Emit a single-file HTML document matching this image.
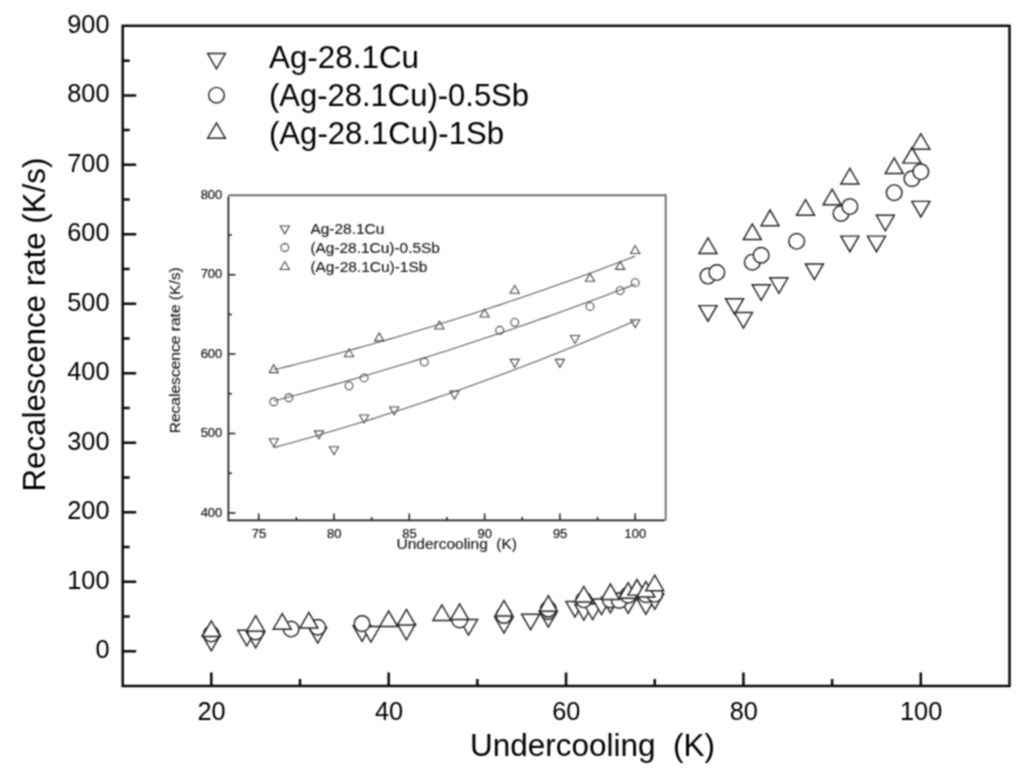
<!DOCTYPE html>
<html><head><meta charset="utf-8"><title>Recalescence rate vs undercooling</title>
<style>html,body{margin:0;padding:0;background:#fff;}svg{display:block;}</style></head>
<body><svg width="1024" height="782" viewBox="0 0 1024 782">
<defs><filter id="soft" filterUnits="userSpaceOnUse" x="0" y="0" width="1024" height="782" color-interpolation-filters="sRGB"><feConvolveMatrix order="3" kernelMatrix="1 2 1 2 4 2 1 2 1" divisor="16" edgeMode="duplicate"/></filter></defs>
<g filter="url(#soft)">
<rect width="1024" height="782" fill="#fff"/>
<rect x="122.7" y="25.8" width="886.8" height="660.2" fill="none" stroke="#0a0a0a" stroke-width="2.5"/>
<path d="M211.3 686V672.5M388.68 686V672.5M566.06 686V672.5M743.44 686V672.5M920.82 686V672.5M299.99 686V679M477.37 686V679M654.75 686V679M832.13 686V679M122.7 651.3H136.2M122.7 581.81H136.2M122.7 512.32H136.2M122.7 442.83H136.2M122.7 373.34H136.2M122.7 303.85H136.2M122.7 234.36H136.2M122.7 164.87H136.2M122.7 95.38H136.2M122.7 616.55H129.7M122.7 547.06H129.7M122.7 477.57H129.7M122.7 408.08H129.7M122.7 338.59H129.7M122.7 269.1H129.7M122.7 199.61H129.7M122.7 130.12H129.7M122.7 60.63H129.7" stroke="#0a0a0a" stroke-width="2.5" fill="none"/>
<g font-family="Liberation Sans, Arial, sans-serif" font-size="25.3" fill="#000"><text x="109.5" y="658.3" text-anchor="end">0</text><text x="109.5" y="588.81" text-anchor="end">100</text><text x="109.5" y="519.32" text-anchor="end">200</text><text x="109.5" y="449.83" text-anchor="end">300</text><text x="109.5" y="380.34" text-anchor="end">400</text><text x="109.5" y="310.85" text-anchor="end">500</text><text x="109.5" y="241.36" text-anchor="end">600</text><text x="109.5" y="171.87" text-anchor="end">700</text><text x="109.5" y="102.38" text-anchor="end">800</text><text x="109.5" y="32.89" text-anchor="end">900</text><text x="211.6" y="719.6" text-anchor="middle">20</text><text x="388.98" y="719.6" text-anchor="middle">40</text><text x="566.36" y="719.6" text-anchor="middle">60</text><text x="743.74" y="719.6" text-anchor="middle">80</text><text x="921.12" y="719.6" text-anchor="middle">100</text></g>
<text font-family="Liberation Sans, Arial, sans-serif" font-size="31" fill="#000" x="470" y="756.3" textLength="245" lengthAdjust="spacingAndGlyphs" style="white-space:pre">Undercooling  (K)</text>
<text font-family="Liberation Sans, Arial, sans-serif" font-size="31" fill="#000" transform="translate(44.6 491.6) rotate(-90)" x="0" y="0" textLength="334" lengthAdjust="spacingAndGlyphs">Recalescence rate (K/s)</text>
<path d="M207.67 53.5L225.33 53.5L216.5 68.8Z" stroke="#262626" stroke-width="1.45" fill="#fff"/>
<circle cx="216.5" cy="95.2" r="7.8" stroke="#262626" stroke-width="1.45" fill="#fff"/>
<path d="M207.67 138.2L225.33 138.2L216.5 122.9Z" stroke="#262626" stroke-width="1.45" fill="#fff"/>
<g font-family="Liberation Sans, Arial, sans-serif" font-size="31" fill="#000">
<text x="269" y="68.4" textLength="150" lengthAdjust="spacingAndGlyphs">Ag-28.1Cu</text>
<text x="269" y="106.1" textLength="260" lengthAdjust="spacingAndGlyphs">(Ag-28.1Cu)-0.5Sb</text>
<text x="269" y="144.2" textLength="235" lengthAdjust="spacingAndGlyphs">(Ag-28.1Cu)-1Sb</text>
</g>
<g stroke="#262626" stroke-width="1.45" fill="#fff">
<path d="M202.29 635.19L220.31 635.19L211.3 650.79Z"/>
<path d="M237.77 630.26L255.78 630.26L246.78 645.86Z"/>
<path d="M246.64 632.2L264.65 632.2L255.65 647.8Z"/>
<path d="M308.72 627.41L326.73 627.41L317.73 643.01Z"/>
<path d="M353.07 625.67L371.08 625.67L362.07 641.27Z"/>
<path d="M361.94 626.57L379.95 626.57L370.94 642.17Z"/>
<path d="M397.41 624.14L415.42 624.14L406.42 639.74Z"/>
<path d="M459.49 619.55L477.51 619.55L468.5 635.15Z"/>
<path d="M494.97 617.54L512.98 617.54L503.98 633.14Z"/>
<path d="M521.58 614.2L539.59 614.2L530.58 629.8Z"/>
<path d="M539.32 611.56L557.33 611.56L548.32 627.16Z"/>
<path d="M565.92 601.56L583.94 601.56L574.93 617.16Z"/>
<path d="M574.79 604.41L592.8 604.41L583.8 620.01Z"/>
<path d="M583.66 604.06L601.67 604.06L592.67 619.66Z"/>
<path d="M592.53 598.92L610.54 598.92L601.54 614.52Z"/>
<path d="M601.4 597.32L619.41 597.32L610.4 612.92Z"/>
<path d="M619.14 597.73L637.15 597.73L628.14 613.33Z"/>
<path d="M636.87 598.71L654.89 598.71L645.88 614.31Z"/>
<path d="M645.74 593.7L663.76 593.7L654.75 609.3Z"/>
<path d="M698.96 305.6L716.97 305.6L707.96 321.2Z"/>
<path d="M725.56 298.65L743.58 298.65L734.57 314.25Z"/>
<path d="M734.43 312.55L752.45 312.55L743.44 328.15Z"/>
<path d="M752.17 284.75L770.18 284.75L761.18 300.35Z"/>
<path d="M769.91 277.8L787.92 277.8L778.92 293.4Z"/>
<path d="M805.39 263.9L823.4 263.9L814.39 279.5Z"/>
<path d="M840.86 236.11L858.87 236.11L849.87 251.71Z"/>
<path d="M867.47 236.11L885.48 236.11L876.47 251.71Z"/>
<path d="M876.34 215.26L894.35 215.26L885.34 230.86Z"/>
<path d="M911.81 201.36L929.83 201.36L920.82 216.96Z"/>
<circle cx="211.3" cy="634" r="7.8"/>
<circle cx="255.65" cy="631.98" r="7.8"/>
<circle cx="291.12" cy="629.06" r="7.8"/>
<circle cx="317.73" cy="627.26" r="7.8"/>
<circle cx="362.07" cy="623.64" r="7.8"/>
<circle cx="459.63" cy="619.89" r="7.8"/>
<circle cx="503.98" cy="615.44" r="7.8"/>
<circle cx="548.32" cy="611.76" r="7.8"/>
<circle cx="548.32" cy="609.12" r="7.8"/>
<circle cx="583.8" cy="599.81" r="7.8"/>
<circle cx="610.4" cy="600.02" r="7.8"/>
<circle cx="619.27" cy="600.5" r="7.8"/>
<circle cx="628.14" cy="595.15" r="7.8"/>
<circle cx="645.88" cy="594.67" r="7.8"/>
<circle cx="654.75" cy="594.32" r="7.8"/>
<circle cx="707.96" cy="276.05" r="7.8"/>
<circle cx="716.83" cy="272.58" r="7.8"/>
<circle cx="752.31" cy="262.16" r="7.8"/>
<circle cx="761.18" cy="255.21" r="7.8"/>
<circle cx="796.65" cy="241.31" r="7.8"/>
<circle cx="841" cy="213.51" r="7.8"/>
<circle cx="849.87" cy="206.56" r="7.8"/>
<circle cx="894.21" cy="192.67" r="7.8"/>
<circle cx="911.95" cy="178.77" r="7.8"/>
<circle cx="920.82" cy="171.82" r="7.8"/>
<path d="M202.29 636.49L220.31 636.49L211.3 620.89Z"/>
<path d="M246.64 631.21L264.65 631.21L255.65 615.61Z"/>
<path d="M273.25 629.26L291.26 629.26L282.25 613.66Z"/>
<path d="M299.85 628.08L317.87 628.08L308.86 612.48Z"/>
<path d="M379.67 626.55L397.69 626.55L388.68 610.95Z"/>
<path d="M397.41 625.09L415.42 625.09L406.42 609.49Z"/>
<path d="M432.89 620.43L450.9 620.43L441.89 604.83Z"/>
<path d="M450.63 619.46L468.64 619.46L459.63 603.86Z"/>
<path d="M494.97 616.06L512.98 616.06L503.98 600.46Z"/>
<path d="M539.32 611.33L557.33 611.33L548.32 595.73Z"/>
<path d="M574.79 601.95L592.8 601.95L583.8 586.35Z"/>
<path d="M601.4 599.59L619.41 599.59L610.4 583.99Z"/>
<path d="M619.14 598.34L637.15 598.34L628.14 582.74Z"/>
<path d="M628.01 595.14L646.02 595.14L637.01 579.54Z"/>
<path d="M636.87 597.09L654.89 597.09L645.88 581.49Z"/>
<path d="M645.74 590.69L663.76 590.69L654.75 575.09Z"/>
<path d="M698.96 253.46L716.97 253.46L707.96 237.86Z"/>
<path d="M743.3 239.56L761.32 239.56L752.31 223.96Z"/>
<path d="M761.04 225.66L779.05 225.66L770.05 210.06Z"/>
<path d="M796.52 215.24L814.53 215.24L805.52 199.64Z"/>
<path d="M823.12 204.81L841.14 204.81L832.13 189.21Z"/>
<path d="M840.86 183.97L858.87 183.97L849.87 168.37Z"/>
<path d="M885.21 173.54L903.22 173.54L894.21 157.94Z"/>
<path d="M902.94 163.12L920.96 163.12L911.95 147.52Z"/>
<path d="M911.81 149.22L929.83 149.22L920.82 133.62Z"/>
</g>
<rect x="228.4" y="195.2" width="437.3" height="325.2" fill="#fff" stroke="none"/>
<path d="M228.4 196.2V520.4H664.7" stroke="#1e1e1e" stroke-width="1.7" fill="none"/>
<path d="M228.4 195.2H665.7V520.4" stroke="#6e6e6e" stroke-width="1.9" fill="none"/>
<path d="M258.7 520.4V513.4M334 520.4V513.4M409.3 520.4V513.4M484.6 520.4V513.4M559.9 520.4V513.4M635.2 520.4V513.4M296.35 520.4V516.9M371.65 520.4V516.9M446.95 520.4V516.9M522.25 520.4V516.9M597.55 520.4V516.9M228.4 512.9H235.4M228.4 433.5H235.4M228.4 354.1H235.4M228.4 274.7H235.4M228.4 473.2H231.9M228.4 393.8H231.9M228.4 314.4H231.9M228.4 235H231.9" stroke="#1e1e1e" stroke-width="1.5" fill="none"/>
<g font-family="Liberation Sans, Arial, sans-serif" font-size="12.6" fill="#151515" stroke="#151515" stroke-width="0.2"><text x="0" y="0" transform="translate(222.3 516.6) scale(1.03 1)" text-anchor="end">400</text><text x="0" y="0" transform="translate(222.3 437.2) scale(1.03 1)" text-anchor="end">500</text><text x="0" y="0" transform="translate(222.3 357.8) scale(1.03 1)" text-anchor="end">600</text><text x="0" y="0" transform="translate(222.3 278.4) scale(1.03 1)" text-anchor="end">700</text><text x="0" y="0" transform="translate(222.3 199) scale(1.03 1)" text-anchor="end">800</text><text x="0" y="0" transform="translate(258.9 537.6) scale(1.03 1)" text-anchor="middle">75</text><text x="0" y="0" transform="translate(334.2 537.6) scale(1.03 1)" text-anchor="middle">80</text><text x="0" y="0" transform="translate(409.5 537.6) scale(1.03 1)" text-anchor="middle">85</text><text x="0" y="0" transform="translate(484.8 537.6) scale(1.03 1)" text-anchor="middle">90</text><text x="0" y="0" transform="translate(560.1 537.6) scale(1.03 1)" text-anchor="middle">95</text><text x="0" y="0" transform="translate(635.4 537.6) scale(1.03 1)" text-anchor="middle">100</text></g>
<text font-family="Liberation Sans, Arial, sans-serif" font-size="14.2" fill="#1a1a1a" stroke="#1a1a1a" stroke-width="0.15" x="396.5" y="548.6" textLength="120.5" lengthAdjust="spacingAndGlyphs" style="white-space:pre">Undercooling  (K)</text>
<text font-family="Liberation Sans, Arial, sans-serif" font-size="14.6" fill="#1a1a1a" stroke="#1a1a1a" stroke-width="0.15" transform="translate(180.3 433.3) rotate(-90)" x="0" y="0" textLength="166" lengthAdjust="spacingAndGlyphs">Recalescence rate (K/s)</text>
<path d="M280.21 225.95L289.39 225.95L284.8 233.9Z" stroke="#4a4a4a" stroke-width="1.1" fill="#fff"/>
<circle cx="284.8" cy="247.5" r="3.9" stroke="#4a4a4a" stroke-width="1.1" fill="#fff"/>
<path d="M280.21 269.45L289.39 269.45L284.8 261.5Z" stroke="#4a4a4a" stroke-width="1.1" fill="#fff"/>
<g font-family="Liberation Sans, Arial, sans-serif" font-size="13.8" fill="#1a1a1a" stroke="#1a1a1a" stroke-width="0.15">
<text x="310.4" y="233.6" textLength="74" lengthAdjust="spacingAndGlyphs">Ag-28.1Cu</text>
<text x="310.4" y="252.7" textLength="129.5" lengthAdjust="spacingAndGlyphs">(Ag-28.1Cu)-0.5Sb</text>
<text x="310.4" y="271.6" textLength="117" lengthAdjust="spacingAndGlyphs">(Ag-28.1Cu)-1Sb</text>
</g>
<g stroke="#4a4a4a" stroke-width="1.1" fill="#fff">
<path d="M269.17 438.79L278.35 438.79L273.76 446.74Z"/>
<path d="M314.35 430.85L323.53 430.85L318.94 438.8Z"/>
<path d="M329.41 446.73L338.59 446.73L334 454.68Z"/>
<path d="M359.53 414.97L368.71 414.97L364.12 422.92Z"/>
<path d="M389.65 407.03L398.83 407.03L394.24 414.98Z"/>
<path d="M449.89 391.15L459.07 391.15L454.48 399.1Z"/>
<path d="M510.13 359.39L519.31 359.39L514.72 367.34Z"/>
<path d="M555.31 359.39L564.49 359.39L559.9 367.34Z"/>
<path d="M570.37 335.57L579.55 335.57L574.96 343.52Z"/>
<path d="M630.61 319.69L639.79 319.69L635.2 327.64Z"/>
<circle cx="273.76" cy="401.74" r="3.9"/>
<circle cx="288.82" cy="397.77" r="3.9"/>
<circle cx="349.06" cy="385.86" r="3.9"/>
<circle cx="364.12" cy="377.92" r="3.9"/>
<circle cx="424.36" cy="362.04" r="3.9"/>
<circle cx="499.66" cy="330.28" r="3.9"/>
<circle cx="514.72" cy="322.34" r="3.9"/>
<circle cx="590.02" cy="306.46" r="3.9"/>
<circle cx="620.14" cy="290.58" r="3.9"/>
<circle cx="635.2" cy="282.64" r="3.9"/>
<path d="M269.17 372.63L278.35 372.63L273.76 364.68Z"/>
<path d="M344.47 356.75L353.65 356.75L349.06 348.8Z"/>
<path d="M374.59 340.87L383.77 340.87L379.18 332.92Z"/>
<path d="M434.83 328.96L444.01 328.96L439.42 321.01Z"/>
<path d="M480.01 317.05L489.19 317.05L484.6 309.1Z"/>
<path d="M510.13 293.23L519.31 293.23L514.72 285.28Z"/>
<path d="M585.43 281.32L594.61 281.32L590.02 273.37Z"/>
<path d="M615.55 269.41L624.73 269.41L620.14 261.46Z"/>
<path d="M630.61 253.53L639.79 253.53L635.2 245.58Z"/>
</g>
<g stroke="#5a5a5a" stroke-width="1.1" fill="none">
<path d="M273.76 369.83 L281.29 367.99 L288.82 366.13 L296.35 364.25 L303.88 362.34 L311.41 360.41 L318.94 358.46 L326.47 356.49 L334 354.49 L341.53 352.47 L349.06 350.43 L356.59 348.37 L364.12 346.28 L371.65 344.17 L379.18 342.04 L386.71 339.89 L394.24 337.71 L401.77 335.51 L409.3 333.29 L416.83 331.04 L424.36 328.78 L431.89 326.49 L439.42 324.17 L446.95 321.84 L454.48 319.48 L462.01 317.1 L469.54 314.7 L477.07 312.27 L484.6 309.83 L492.13 307.35 L499.66 304.86 L507.19 302.35 L514.72 299.81 L522.25 297.25 L529.78 294.66 L537.31 292.06 L544.84 289.43 L552.37 286.78 L559.9 284.1 L567.43 281.41 L574.96 278.69 L582.49 275.95 L590.02 273.18 L597.55 270.4 L605.08 267.59 L612.61 264.75 L620.14 261.9 L627.67 259.02 L635.2 256.12"/>
<path d="M273.76 400.95 L281.29 398.97 L288.82 396.98 L296.35 394.97 L303.88 392.94 L311.41 390.89 L318.94 388.82 L326.47 386.73 L334 384.63 L341.53 382.5 L349.06 380.35 L356.59 378.18 L364.12 375.99 L371.65 373.79 L379.18 371.56 L386.71 369.32 L394.24 367.05 L401.77 364.77 L409.3 362.46 L416.83 360.14 L424.36 357.79 L431.89 355.43 L439.42 353.05 L446.95 350.65 L454.48 348.22 L462.01 345.78 L469.54 343.32 L477.07 340.84 L484.6 338.34 L492.13 335.82 L499.66 333.28 L507.19 330.72 L514.72 328.15 L522.25 325.55 L529.78 322.93 L537.31 320.29 L544.84 317.64 L552.37 314.96 L559.9 312.26 L567.43 309.55 L574.96 306.81 L582.49 304.06 L590.02 301.28 L597.55 298.49 L605.08 295.68 L612.61 292.84 L620.14 289.99 L627.67 287.12 L635.2 284.23"/>
<path d="M273.76 447.63 L281.29 445.59 L288.82 443.52 L296.35 441.43 L303.88 439.31 L311.41 437.17 L318.94 435 L326.47 432.81 L334 430.59 L341.53 428.34 L349.06 426.07 L356.59 423.77 L364.12 421.45 L371.65 419.1 L379.18 416.73 L386.71 414.33 L394.24 411.9 L401.77 409.45 L409.3 406.97 L416.83 404.47 L424.36 401.94 L431.89 399.39 L439.42 396.81 L446.95 394.21 L454.48 391.58 L462.01 388.92 L469.54 386.24 L477.07 383.53 L484.6 380.8 L492.13 378.04 L499.66 375.26 L507.19 372.45 L514.72 369.61 L522.25 366.75 L529.78 363.86 L537.31 360.95 L544.84 358.01 L552.37 355.05 L559.9 352.06 L567.43 349.04 L574.96 346 L582.49 342.94 L590.02 339.84 L597.55 336.73 L605.08 333.58 L612.61 330.41 L620.14 327.22 L627.67 324 L635.2 320.75"/>
</g>
</g>
</svg></body></html>
